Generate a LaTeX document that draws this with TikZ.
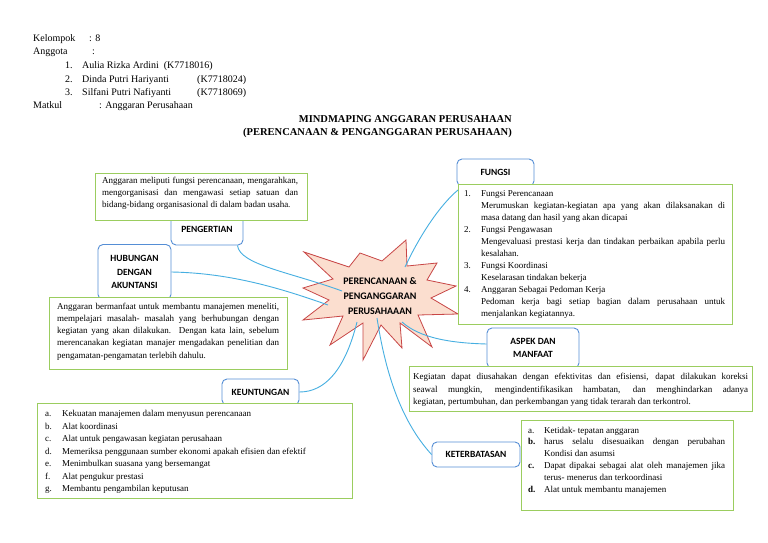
\documentclass[tikz,border=0pt]{standalone}
\usepackage{fontspec}
\setmainfont{Liberation Serif}
\newfontfamily\lblfont{Carlito}
\usetikzlibrary{calc}
\definecolor{gbord}{RGB}{155,205,95}
\definecolor{bbord}{RGB}{85,142,213}
\definecolor{conn}{RGB}{70,175,225}
\definecolor{starfill}{RGB}{251,222,207}
\definecolor{stardraw}{RGB}{200,70,70}
\newcommand{\jl}[2]{\makebox[#1][s]{#2}}
\tikzset{
  lbox/.style={draw=bbord, line width=0.9pt, rounded corners=5pt, fill=white, align=center,
    font=\lblfont\bfseries\fontsize{9.5}{13.5}\selectfont, inner sep=0pt},
  gbox/.style={draw=gbord, line width=1.3pt, fill=white, anchor=north west, inner sep=0pt},
  btext/.style={anchor=north west, inner sep=0pt, align=left, font=\fontsize{9}{12}\selectfont},
  conline/.style={draw=conn, line width=0.9pt},
  hdr/.style={anchor=base west, inner sep=0pt, font=\fontsize{10}{12}\selectfont},
  ttl/.style={anchor=base east, inner sep=0pt, font=\bfseries\fontsize{10.5}{12}\selectfont}
}
\begin{document}
\begin{tikzpicture}[x=1pt,y=-1pt]
\useasboundingbox (0,0) rectangle (768,543);
\fill[white] (0,0) rectangle (768,543);

% header
\node[hdr] (kel) at (33,42) {Kelompok};
\node[hdr] (kelv) at (89,42) {: 8};
\node[hdr] (ang) at (33,55) {Anggota};
\node[hdr] (angv) at (92,55) {:};
\node[hdr] (n1) at (65,68) {1.};
\node[hdr] (m1) at (82,68) {Aulia Rizka Ardini\ \ (K7718016)};
\node[hdr] (n2) at (65,82) {2.};
\node[hdr] (m2) at (82,82) {Dinda Putri Hariyanti};
\node[hdr] (k2) at (197,82) {(K7718024)};
\node[hdr] (n3) at (65,95) {3.};
\node[hdr] (m3) at (82,95) {Silfani Putri Nafiyanti};
\node[hdr] (k3) at (197,95) {(K7718069)};
\node[hdr] (mat) at (33,108) {Matkul};
\node[hdr] (matv) at (99,108) {: Anggaran Perusahaan};
\node[ttl] (t1) at (512,122) {MINDMAPING ANGGARAN PERUSAHAAN};
\node[ttl] (t2) at (512,135) {(PERENCANAAN \& PENGANGGARAN PERUSAHAAN)};

% central star
\filldraw[fill=starfill, draw=stardraw, line width=0.8pt]
  (304,252) -- (349,267) -- (360,253) -- (382,261) -- (406,240) -- (407,266)
  -- (437,263) -- (427,280) -- (456,286) -- (431,298) -- (458,314) -- (418,315)
  -- (432,347) -- (400,323) -- (402,348) -- (381,325) -- (363,360) -- (363,323)
  -- (330,345) -- (343,316) -- (303,320) -- (329,300) -- (303,288) -- (333,279) -- cycle;
\coordinate (sP) at (342,291);
\coordinate (sH) at (328,305);
\coordinate (sF) at (405,267);
\coordinate (sA) at (402,322);
\coordinate (sK) at (357,322);
\coordinate (sT) at (377,318);

% label boxes (positions)
\path (207,229) node[lbox, minimum width=72pt, minimum height=32pt] (pengertian) {PENGERTIAN};
\path (134.5,272) node[lbox, minimum width=73pt, minimum height=55pt] (hubungan) {HUBUNGAN\\DENGAN\\AKUNTANSI};
\path (495.5,172.5) node[lbox, minimum width=77pt, minimum height=27pt] (fungsi) {FUNGSI};
\path (533,348) node[lbox, minimum width=92pt, minimum height=40pt] (aspek) {ASPEK DAN\\MANFAAT};
\path (260.5,392) node[lbox, minimum width=77pt, minimum height=26pt] (keuntungan) {KEUNTUNGAN};
\path (476,454.5) node[lbox, minimum width=88pt, minimum height=25pt] (keterbatasan) {KETERBATASAN};

% green boxes
\node[gbox, minimum width=212pt, minimum height=47pt] (pgbox) at (95,173) {};
\node[gbox, minimum width=238pt, minimum height=72pt] (hgbox) at (49,297) {};
\node[gbox, minimum width=274pt, minimum height=140pt] (fgbox) at (458,184) {};
\node[gbox, minimum width=343pt, minimum height=45pt] (agbox) at (409,366) {};
\node[gbox, minimum width=315pt, minimum height=95pt] (kgbox) at (37,403) {};
\node[gbox, minimum width=212pt, minimum height=90pt] (tgbox) at (521,420) {};

% connectors
\draw[conline] ($(pengertian.south east)+(-6,0)$) .. controls (240,265) and (290,272) .. (sP);
\draw[conline] (hubungan.east) .. controls (230,273) and (280,288) .. (sH);
\draw[conline] ($(fgbox.north west)+(0,6)$) .. controls (440,205) and (420,235) .. (sF);
\draw[conline] (sA) .. controls (420,338) and (450,343) .. ($(aspek.west)+(0,-4)$);
\draw[conline] (keuntungan.east) .. controls (325,392) and (345,370) .. (sK);
\draw[conline] (sT) .. controls (385,370) and (400,420) .. (keterbatasan.west);

% star text
\node[align=center, inner sep=0pt, font=\lblfont\bfseries\fontsize{10}{15}\selectfont] (center) at (380,296)
  {PERENCANAAN \&\\PENGANGGARAN\\PERUSAHAAAN};

% texts
\node[btext] (ptext) at (102,174.6) {\strut\jl{196pt}{Anggaran meliputi fungsi perencanaan, mengarahkan,}\\
\jl{196pt}{mengorganisasi dan mengawasi setiap satuan dan}\\
bidang-bidang organisasional di dalam badan usaha.};

\node[btext, font=\fontsize{9}{12.2}\selectfont] (htext) at (57,300.6) {\strut\jl{222pt}{Anggaran bermanfaat untuk membantu manajemen meneliti,}\\
\jl{222pt}{mempelajari masalah- masalah yang berhubungan dengan}\\
\jl{222pt}{kegiatan yang akan dilakukan. Dengan kata lain, sebelum}\\
\jl{222pt}{merencanakan kegiatan manajer mengadakan penelitian dan}\\
pengamatan-pengamatan terlebih dahulu.};

\node[btext] (ftext) at (464,187.6) {\strut\makebox[17pt][l]{1.}Fungsi Perencanaan\\
\hspace*{17pt}\jl{244pt}{Merumuskan kegiatan-kegiatan apa yang akan dilaksanakan di}\\
\hspace*{17pt}masa datang dan hasil yang akan dicapai\\
\makebox[17pt][l]{2.}Fungsi Pengawasan\\
\hspace*{17pt}\jl{244pt}{Mengevaluasi prestasi kerja dan tindakan perbaikan apabila perlu}\\
\hspace*{17pt}kesalahan.\\
\makebox[17pt][l]{3.}Fungsi Koordinasi\\
\hspace*{17pt}Keselarasan tindakan bekerja\\
\makebox[17pt][l]{4.}Anggaran Sebagai Pedoman Kerja\\
\hspace*{17pt}\jl{244pt}{Pedoman kerja bagi setiap bagian dalam perusahaan untuk}\\
\hspace*{17pt}menjalankan kegiatannya.};

\node[btext, font=\fontsize{9}{12.5}\selectfont] (atext) at (413,370.6) {\strut\jl{335pt}{Kegiatan dapat diusahakan dengan efektivitas dan efisiensi, dapat dilakukan koreksi}\\
\jl{335pt}{seawal mungkin, mengindentifikasikan hambatan, dan menghindarkan adanya}\\
kegiatan, pertumbuhan, dan perkembangan yang tidak terarah dan terkontrol.};

\node[btext, font=\fontsize{9}{12.5}\selectfont] (ktext) at (45,407.6) {\strut\makebox[17pt][l]{a.}Kekuatan manajemen dalam menyusun perencanaan\\
\makebox[17pt][l]{b.}Alat koordinasi\\
\makebox[17pt][l]{c.}Alat untuk pengawasan kegiatan perusahaan\\
\makebox[17pt][l]{d.}Memeriksa penggunaan sumber ekonomi apakah efisien dan efektif\\
\makebox[17pt][l]{e.}Menimbulkan suasana yang bersemangat\\
\makebox[17pt][l]{f.}Alat pengukur prestasi\\
\makebox[17pt][l]{g.}Membantu pengambilan keputusan};

\node[btext, font=\fontsize{9}{11.8}\selectfont] (ttext) at (528,424.6) {\strut\makebox[16pt][l]{a.}Ketidak- tepatan anggaran\\
\makebox[16pt][l]{\textbf{b.}}\jl{181pt}{harus selalu disesuaikan dengan perubahan}\\
\hspace*{16pt}Kondisi dan asumsi\\
\makebox[16pt][l]{\textbf{c.}}\jl{181pt}{Dapat dipakai sebagai alat oleh manajemen jika}\\
\hspace*{16pt}terus- menerus dan terkoordinasi\\
\makebox[16pt][l]{\textbf{d.}}Alat untuk membantu manajemen};
\end{tikzpicture}
\end{document}
